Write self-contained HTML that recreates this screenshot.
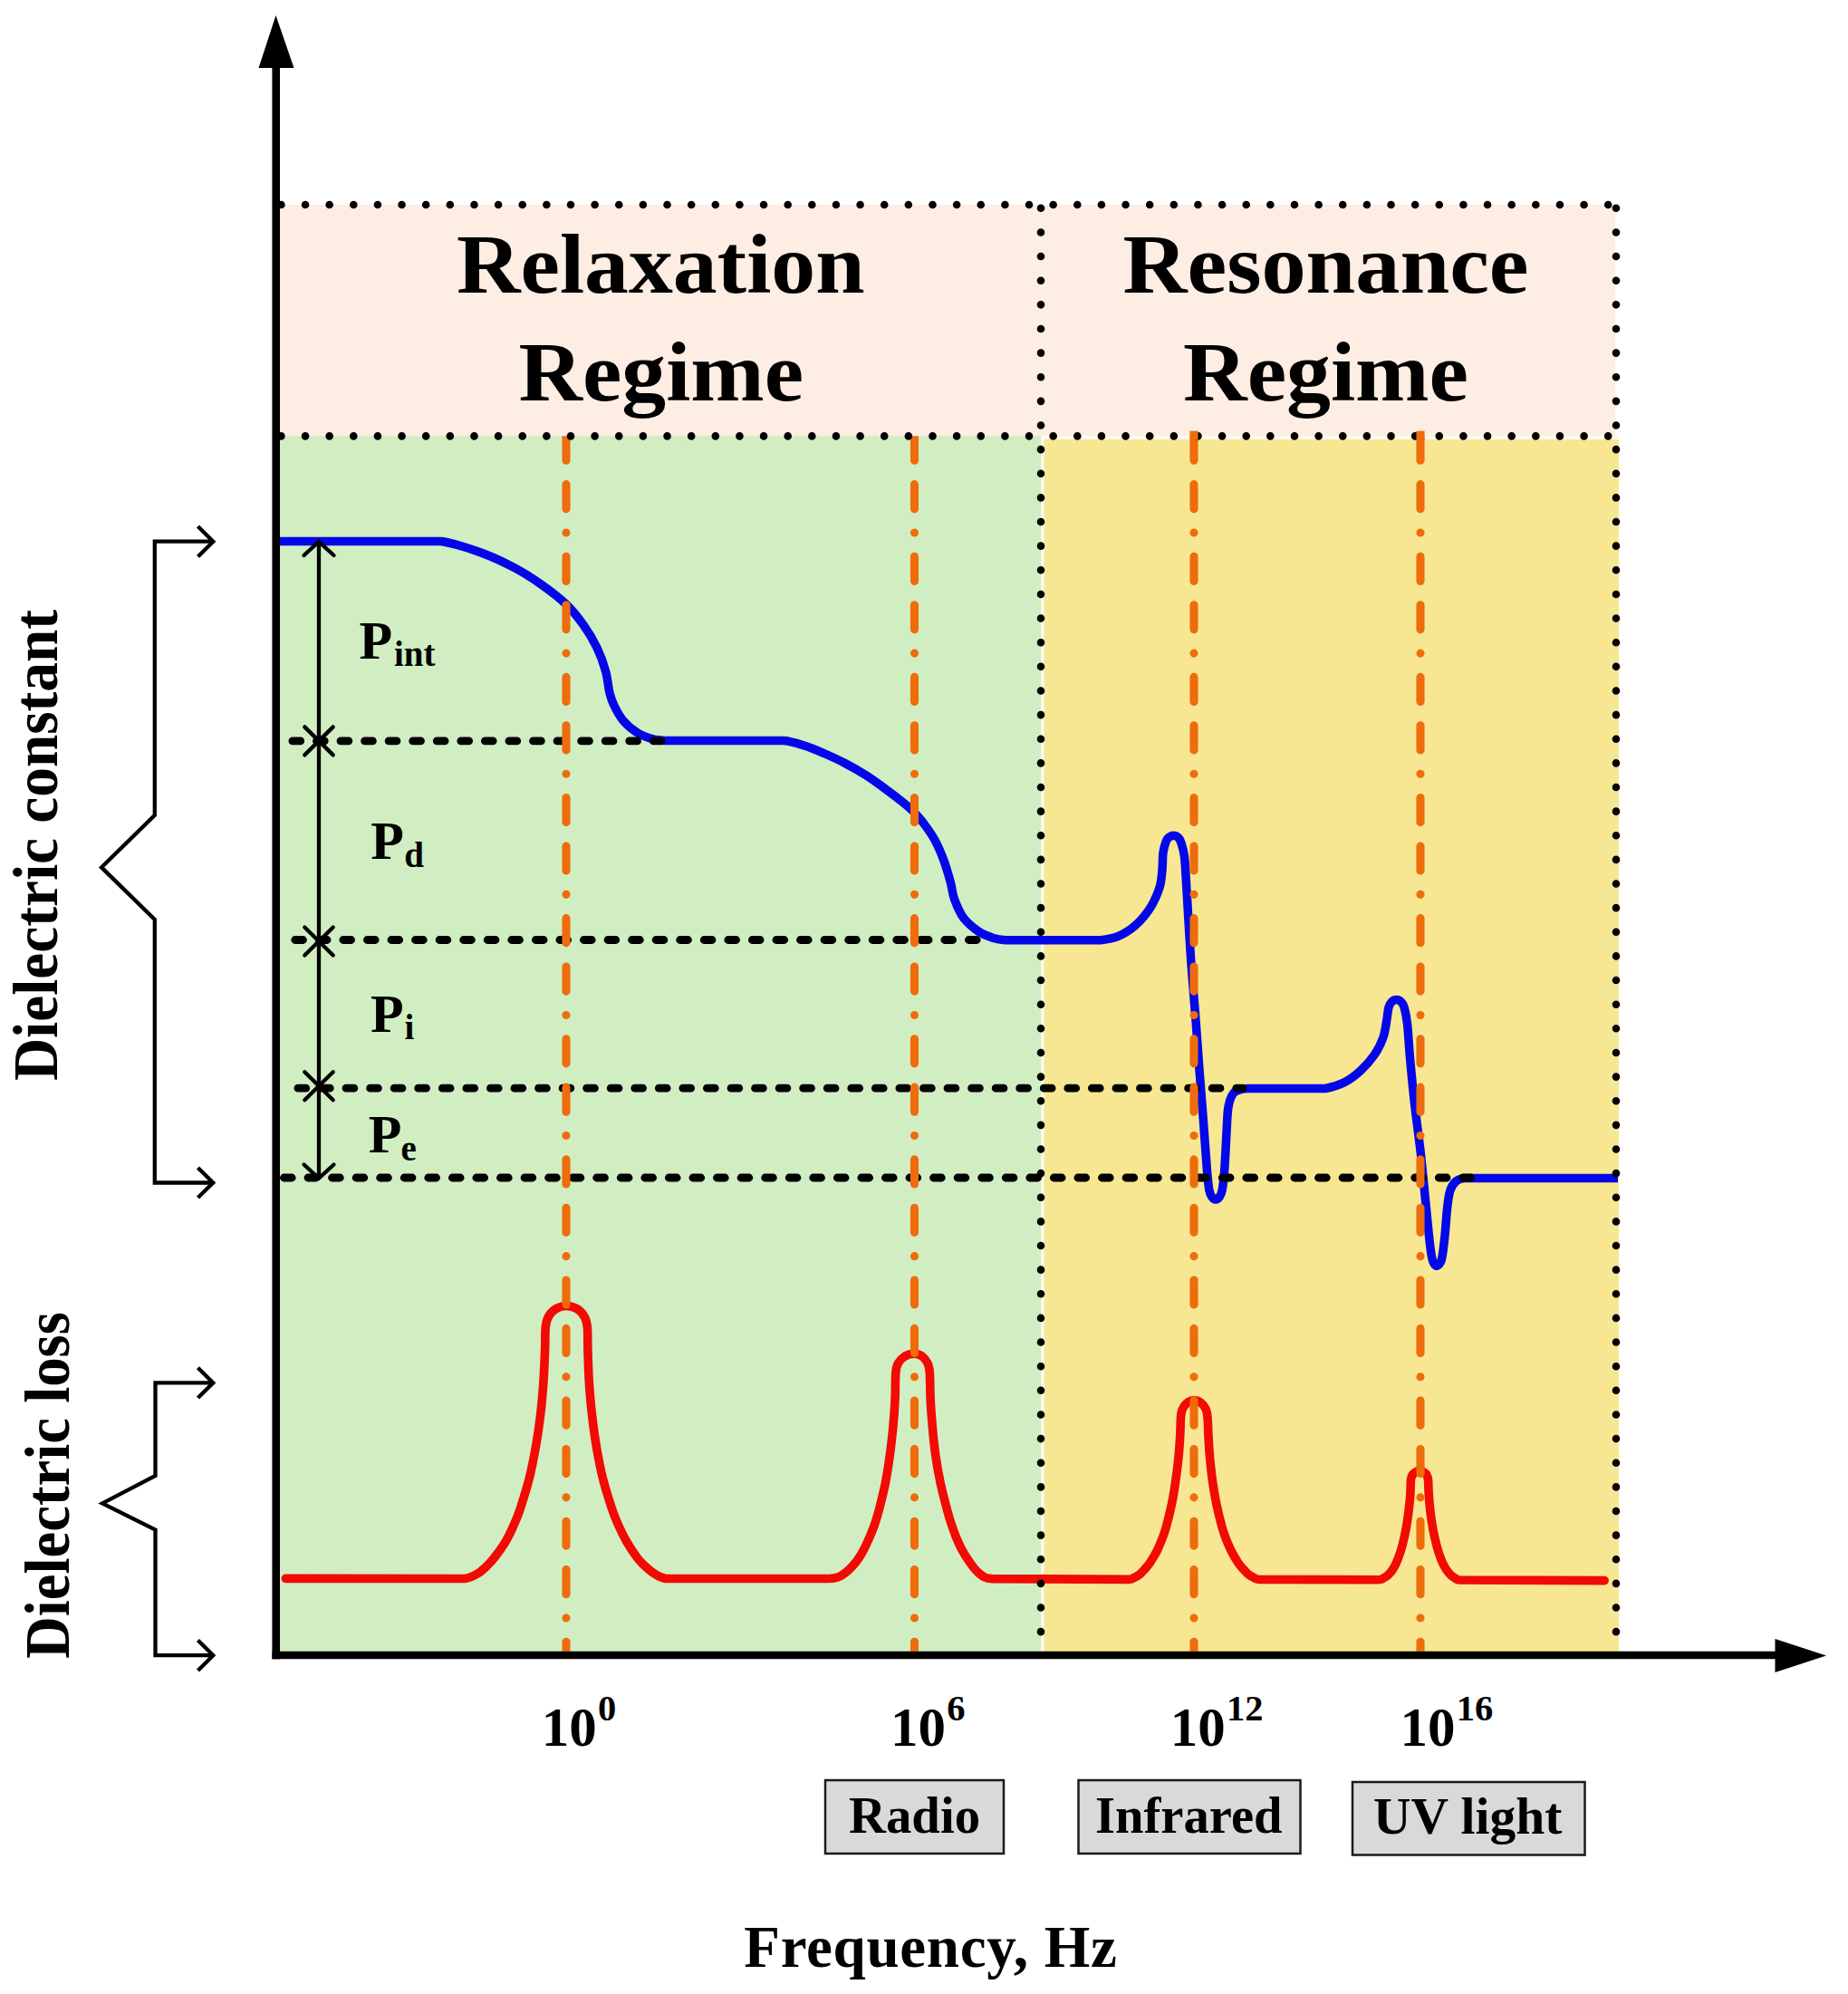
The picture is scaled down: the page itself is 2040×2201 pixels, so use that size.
<!DOCTYPE html>
<html lang="en"><head><meta charset="utf-8"><title>Dielectric constant and loss versus frequency</title>
<style>
html,body{margin:0;padding:0;background:#fff}
body{width:2040px;height:2201px;overflow:hidden}
svg{display:block}
</style></head><body>
<svg width="2040" height="2201" viewBox="0 0 2040 2201" font-family="'Liberation Serif', serif" font-weight="bold">
<defs><clipPath id="plot"><rect x="300" y="481.2" width="1500" height="1341.6"/></clipPath></defs>
<rect width="2040" height="2201" fill="#fff"/>
<rect x="307" y="226" width="1476.3" height="256" fill="#FDEDE2"/>
<rect x="307" y="481.2" width="842.7" height="1342" fill="#D1EEC2"/>
<rect x="1149" y="481" width="638" height="6" fill="#FEFBEC"/>
<rect x="1149" y="481" width="5" height="1342" fill="#FCFBE8"/>
<rect x="1152.6" y="485" width="634.4" height="1338" fill="#F7E792"/>
<path d="M309 597.5H487 C500.1 599.5 516.8 604.9 530.3 609.8 C543.8 614.7 556.8 620.9 568.2 626.9 C579.6 632.9 589.0 639.1 598.5 645.8 C608.0 652.5 617.4 659.7 625.0 667.0 C632.6 674.3 638.3 681.8 644.0 689.8 C649.7 697.8 654.9 706.5 659.0 715.0 C663.1 723.5 666.3 732.7 668.6 741.0 C670.9 749.3 671.4 758.7 673.0 765.0 C674.6 771.3 675.5 773.9 678.0 779.0 C680.5 784.1 683.8 790.5 688.0 795.5 C692.2 800.5 698.3 805.5 703.5 808.8 C708.7 812.1 713.9 813.9 719.0 815.4 C724.1 816.9 727.2 817.1 734.0 817.5H865 C874.3 818.4 880.3 820.6 887.9 823.0 C895.5 825.4 903.0 828.7 910.6 832.0 C918.2 835.3 925.7 838.7 933.3 842.7 C940.9 846.7 948.4 850.9 956.0 855.8 C963.6 860.6 971.8 866.7 978.8 871.8 C985.8 876.9 992.6 882.2 997.7 886.4 C1002.8 890.6 1005.7 893.1 1009.5 897.0 C1013.3 900.9 1016.8 905.0 1020.5 910.0 C1024.2 915.0 1028.3 920.6 1031.8 927.0 C1035.3 933.4 1038.5 940.8 1041.4 948.5 C1044.3 956.2 1047.2 966.2 1049.2 973.5 C1051.2 980.8 1051.1 985.9 1053.5 992.4 C1055.9 998.9 1059.0 1006.9 1063.4 1012.8 C1067.8 1018.7 1074.5 1024.2 1080.0 1028.0 C1085.5 1031.8 1091.6 1033.8 1096.6 1035.4 C1101.6 1037.0 1104.4 1037.3 1110.0 1037.7H1215 C1221.6 1037.0 1228.0 1036.2 1234.5 1033.4 C1241.0 1030.6 1247.9 1026.3 1253.8 1021.0 C1259.7 1015.7 1265.6 1008.6 1270.0 1001.7 C1274.4 994.8 1277.8 986.7 1280.0 979.7 C1282.2 972.8 1282.3 966.5 1283.0 960.0 C1283.7 953.5 1283.2 946.3 1284.0 941.0 C1284.8 935.7 1286.3 930.9 1287.5 928.0 C1288.7 925.1 1289.6 924.8 1291.0 923.8 C1292.4 922.8 1294.2 922.3 1295.7 922.3 C1297.2 922.3 1298.9 922.8 1300.2 924.0 C1301.5 925.2 1302.4 925.7 1303.6 929.5 C1304.8 933.3 1306.5 936.9 1307.6 946.6 C1308.7 956.4 1309.1 969.6 1310.3 988.0 C1311.5 1006.4 1312.9 1034.0 1314.5 1057.0 C1316.1 1080.0 1318.4 1105.3 1320.0 1126.0 C1321.6 1146.7 1322.6 1162.7 1324.0 1181.0 C1325.4 1199.3 1326.9 1217.6 1328.3 1236.0 C1329.7 1254.4 1331.3 1278.5 1332.4 1291.4 C1333.5 1304.3 1333.9 1308.5 1334.8 1313.4 C1335.7 1318.3 1336.4 1319.0 1337.6 1320.8 C1338.8 1322.6 1340.5 1324.0 1342.0 1324.0 C1343.5 1324.0 1345.2 1322.6 1346.4 1320.8 C1347.6 1319.0 1348.3 1318.3 1349.2 1313.4 C1350.1 1308.5 1350.9 1302.0 1351.7 1291.4 C1352.5 1280.8 1353.3 1261.5 1354.0 1250.0 C1354.7 1238.5 1354.7 1229.6 1355.9 1222.4 C1357.1 1215.2 1358.9 1210.3 1361.4 1207.0 C1363.9 1203.7 1367.8 1203.2 1371.0 1202.3 C1374.2 1201.4 1376.7 1201.6 1380.7 1201.5H1463 C1469.5 1200.4 1477.5 1198.1 1484.0 1194.8 C1490.5 1191.5 1496.4 1187.0 1502.0 1181.8 C1507.6 1176.6 1513.6 1169.6 1517.7 1163.6 C1521.8 1157.5 1524.7 1151.5 1526.8 1145.5 C1528.9 1139.5 1529.6 1132.9 1530.6 1127.3 C1531.6 1121.7 1532.0 1115.3 1533.0 1111.7 C1534.0 1108.1 1535.2 1106.9 1536.6 1105.5 C1538.0 1104.1 1540.0 1103.4 1541.6 1103.4 C1543.2 1103.4 1545.0 1104.1 1546.4 1105.5 C1547.8 1106.9 1548.8 1107.6 1550.0 1111.7 C1551.2 1115.8 1552.4 1120.5 1553.5 1130.0 C1554.6 1139.5 1555.2 1153.7 1556.6 1168.8 C1558.0 1183.9 1559.8 1203.5 1561.8 1220.8 C1563.8 1238.1 1566.3 1255.4 1568.3 1272.7 C1570.2 1290.0 1572.0 1309.6 1573.5 1324.7 C1575.0 1339.8 1576.3 1353.6 1577.4 1363.6 C1578.5 1373.5 1579.2 1379.5 1580.0 1384.4 C1580.8 1389.3 1581.0 1390.8 1582.0 1393.0 C1583.0 1395.2 1584.6 1397.4 1586.0 1397.4 C1587.4 1397.4 1589.3 1395.2 1590.4 1393.0 C1591.5 1390.8 1591.7 1389.3 1592.5 1384.4 C1593.3 1379.5 1594.1 1372.2 1595.0 1363.6 C1595.9 1354.9 1596.7 1340.7 1597.7 1332.5 C1598.7 1324.3 1599.2 1319.1 1600.8 1314.3 C1602.4 1309.5 1604.7 1306.2 1607.3 1303.9 C1609.9 1301.6 1612.6 1301.0 1616.4 1300.4H1786" stroke="#0408E8" stroke-width="9.5" fill="none" stroke-linejoin="round"/>
<path d="M315.3 1742.4 L513.0 1742.5 C519.6 1741.6 523.2 1739.3 527.4 1736.9 C531.5 1734.5 534.8 1731.0 537.9 1728.1 C541.0 1725.1 542.4 1723.6 545.8 1719.2 C549.2 1714.8 554.6 1707.5 558.1 1701.7 C561.6 1695.8 564.3 1689.9 566.9 1684.0 C569.5 1678.1 571.0 1675.2 573.9 1666.4 C576.8 1657.6 581.4 1642.9 584.4 1631.2 C587.4 1619.4 589.5 1607.7 591.6 1596.0 C593.7 1584.2 595.3 1572.5 596.7 1560.8 C598.1 1549.0 599.1 1537.3 599.9 1525.6 C600.7 1513.8 601.2 1500.1 601.6 1490.1 C602.0 1480.2 601.6 1471.8 602.2 1465.7 C602.8 1459.6 603.4 1457.1 605.3 1453.6 C607.2 1450.1 610.4 1446.8 613.8 1444.7 C617.1 1442.7 621.4 1441.5 625.3 1441.5 C629.1 1441.5 633.5 1442.7 636.9 1444.7 C640.2 1446.7 643.4 1450.1 645.3 1453.6 C647.2 1457.0 647.8 1459.5 648.4 1465.6 C649.0 1471.7 648.6 1480.1 648.9 1490.1 C649.2 1500.0 649.5 1513.7 650.3 1525.4 C651.0 1537.2 652.1 1548.8 653.4 1560.6 C654.7 1572.3 656.2 1584.0 658.2 1595.7 C660.2 1607.4 662.3 1619.1 665.2 1630.9 C668.1 1642.6 672.8 1657.2 675.7 1666.0 C678.6 1674.8 680.1 1677.7 682.7 1683.6 C685.3 1689.5 688.1 1695.4 691.5 1701.2 C694.9 1707.1 699.7 1714.4 702.9 1718.8 C706.1 1723.2 707.7 1724.6 710.8 1727.6 C713.9 1730.5 717.4 1733.9 721.4 1736.4 C725.4 1738.9 728.6 1741.5 735.0 1742.5 L915.0 1742.5 C920.8 1742.3 921.3 1742.3 924.6 1741.1 C927.9 1739.8 931.7 1737.2 934.6 1734.9 C937.5 1732.7 940.0 1729.9 942.2 1727.4 C944.4 1724.9 946.3 1722.4 948.0 1719.8 C949.7 1717.3 950.6 1716.1 952.6 1712.3 C954.6 1708.5 957.6 1702.1 959.8 1697.1 C962.0 1692.0 964.0 1687.0 965.8 1682.0 C967.5 1676.9 968.3 1674.4 970.3 1666.8 C972.2 1659.2 975.5 1646.6 977.5 1636.5 C979.5 1626.4 980.9 1616.3 982.3 1606.2 C983.7 1596.1 984.8 1586.0 985.8 1575.9 C986.8 1565.8 987.5 1555.7 988.0 1545.6 C988.5 1535.4 988.2 1522.0 988.8 1515.2 C989.4 1508.4 989.8 1507.8 991.5 1504.7 C993.2 1501.7 996.1 1498.8 999.0 1497.0 C1001.9 1495.3 1006.1 1494.2 1009.2 1494.2 C1012.3 1494.2 1015.3 1495.3 1017.8 1497.0 C1020.2 1498.8 1022.6 1501.7 1024.0 1504.7 C1025.4 1507.7 1025.8 1508.4 1026.3 1515.2 C1026.8 1522.0 1026.7 1535.4 1027.2 1545.5 C1027.7 1555.6 1028.5 1565.6 1029.4 1575.7 C1030.3 1585.8 1031.3 1595.9 1032.7 1606.0 C1034.1 1616.1 1035.9 1626.2 1038.0 1636.2 C1040.1 1646.3 1043.5 1658.9 1045.5 1666.5 C1047.5 1674.1 1048.3 1676.6 1050.0 1681.7 C1051.7 1686.7 1053.4 1691.7 1055.5 1696.8 C1057.6 1701.8 1059.8 1706.9 1062.6 1711.9 C1065.4 1717.0 1069.6 1723.2 1072.3 1727.0 C1075.0 1730.8 1076.2 1732.3 1078.6 1734.6 C1081.0 1736.8 1083.8 1739.3 1086.5 1740.7 C1089.2 1742.0 1089.4 1742.3 1095.0 1742.6 L1246.0 1743.4 C1251.2 1743.1 1250.0 1742.4 1252.0 1741.5 C1254.0 1740.5 1256.1 1739.4 1258.2 1737.7 C1260.3 1736.0 1262.6 1733.4 1264.5 1731.2 C1266.4 1729.1 1267.4 1728.0 1269.5 1724.8 C1271.6 1721.6 1274.9 1716.3 1277.1 1712.0 C1279.3 1707.7 1281.0 1703.4 1282.7 1699.1 C1284.4 1694.8 1285.3 1692.7 1287.1 1686.3 C1288.9 1679.9 1291.6 1669.1 1293.4 1660.6 C1295.2 1652.0 1296.5 1643.5 1297.7 1635.0 C1299.0 1626.4 1300.1 1617.8 1300.9 1609.3 C1301.8 1600.7 1302.4 1591.1 1302.8 1583.6 C1303.2 1576.1 1303.1 1569.1 1303.5 1564.3 C1303.9 1559.6 1304.2 1557.7 1305.5 1555.1 C1306.7 1552.4 1308.7 1549.8 1310.9 1548.3 C1313.0 1546.7 1315.7 1545.8 1318.2 1545.8 C1320.7 1545.8 1323.5 1546.7 1325.6 1548.3 C1327.7 1549.8 1329.8 1552.4 1331.0 1555.1 C1332.3 1557.7 1332.5 1559.6 1333.0 1564.3 C1333.5 1569.1 1333.5 1576.1 1333.9 1583.6 C1334.3 1591.1 1334.8 1600.7 1335.6 1609.3 C1336.4 1617.8 1337.3 1626.4 1338.5 1635.0 C1339.7 1643.5 1341.1 1652.0 1342.9 1660.6 C1344.7 1669.1 1347.4 1679.9 1349.2 1686.3 C1351.0 1692.7 1351.8 1694.8 1353.5 1699.1 C1355.2 1703.4 1357.0 1707.7 1359.2 1712.0 C1361.4 1716.3 1364.6 1721.6 1366.7 1724.8 C1368.8 1728.0 1369.8 1729.1 1371.7 1731.2 C1373.6 1733.4 1375.9 1736.0 1378.0 1737.7 C1380.1 1739.4 1382.3 1740.5 1384.3 1741.5 C1386.3 1742.4 1384.9 1743.1 1390.0 1743.4 L1521.0 1743.7 C1526.1 1743.5 1524.9 1743.1 1526.8 1742.2 C1528.7 1741.3 1530.7 1740.1 1532.6 1738.3 C1534.5 1736.5 1536.3 1734.3 1538.0 1731.5 C1539.7 1728.7 1541.2 1725.8 1542.8 1721.7 C1544.4 1717.6 1546.2 1712.8 1547.7 1707.1 C1549.2 1701.4 1550.9 1694.2 1552.1 1687.7 C1553.3 1681.2 1554.2 1674.7 1555.0 1668.2 C1555.8 1661.7 1556.5 1654.4 1556.9 1648.7 C1557.3 1643.0 1557.1 1637.4 1557.4 1634.1 C1557.7 1630.8 1557.9 1630.4 1558.7 1628.8 C1559.5 1627.3 1560.9 1625.9 1562.3 1625.0 C1563.7 1624.1 1565.6 1623.6 1567.2 1623.6 C1568.8 1623.6 1570.5 1624.1 1571.9 1625.0 C1573.3 1625.9 1574.6 1627.3 1575.3 1628.8 C1576.1 1630.4 1576.3 1630.8 1576.6 1634.1 C1576.9 1637.4 1576.8 1643.0 1577.2 1648.7 C1577.6 1654.4 1578.1 1661.7 1578.9 1668.2 C1579.7 1674.7 1580.6 1681.2 1581.8 1687.7 C1583.0 1694.2 1584.7 1701.4 1586.2 1707.1 C1587.7 1712.8 1589.4 1717.6 1591.0 1721.7 C1592.6 1725.8 1594.2 1728.7 1595.9 1731.5 C1597.6 1734.3 1599.5 1736.5 1601.3 1738.3 C1603.1 1740.1 1604.9 1741.2 1606.6 1742.2 C1608.3 1743.2 1606.5 1743.7 1611.5 1744.0 L1771.2 1744.6" stroke="#F20A04" stroke-width="9.6" fill="none" stroke-linecap="round" stroke-linejoin="round"/>
<path d="M322.9 817.9H735" stroke="#000" stroke-width="8.8" stroke-linecap="round" stroke-dasharray="8.8 17.76" fill="none"/>
<path d="M325.7 1037.5H1082" stroke="#000" stroke-width="8.8" stroke-linecap="round" stroke-dasharray="8.8 17.76" fill="none"/>
<path d="M328.9 1201.2H1372" stroke="#000" stroke-width="8.8" stroke-linecap="round" stroke-dasharray="8.8 17.76" fill="none"/>
<path d="M313.4 1300H1628" stroke="#000" stroke-width="8.8" stroke-linecap="round" stroke-dasharray="8.8 17.76" fill="none"/>
<path d="M625 481.2V1822" stroke="#EE6C0C" stroke-width="9.1" stroke-linecap="round" stroke-dasharray="27.1 26.3 27.1 26.3 0.01 26.3" fill="none" clip-path="url(#plot)"/>
<path d="M1009.5 481.2V1822" stroke="#EE6C0C" stroke-width="9.1" stroke-linecap="round" stroke-dasharray="27.1 26.3 27.1 26.3 0.01 26.3" fill="none" clip-path="url(#plot)"/>
<path d="M1318 481.2V1822" stroke="#EE6C0C" stroke-width="9.1" stroke-linecap="round" stroke-dasharray="27.1 26.3 27.1 26.3 0.01 26.3" fill="none" clip-path="url(#plot)"/>
<path d="M1568 481.2V1822" stroke="#EE6C0C" stroke-width="9.1" stroke-linecap="round" stroke-dasharray="27.1 26.3 27.1 26.3 0.01 26.3" fill="none" clip-path="url(#plot)"/>
<path d="M310.4 226H1776" stroke="#000" stroke-width="8.6" stroke-linecap="round" stroke-dasharray="0 26.633" fill="none"/>
<path d="M310.4 481.4H1776" stroke="#000" stroke-width="8.6" stroke-linecap="round" stroke-dasharray="0 26.633" fill="none"/>
<path d="M1149 229.8V1805" stroke="#000" stroke-width="8.6" stroke-linecap="round" stroke-dasharray="0 26.633" fill="none"/>
<path d="M1784 229.8V1805" stroke="#000" stroke-width="8.6" stroke-linecap="round" stroke-dasharray="0 26.633" fill="none"/>
<rect x="1313.45" y="475.7" width="9.1" height="10" fill="#EE6C0C"/>
<rect x="1563.45" y="475.7" width="9.1" height="10" fill="#EE6C0C"/>
<path d="M304.7 1831.2V70" stroke="#000" stroke-width="8.6" fill="none"/>
<path d="M300.4 1827H1962" stroke="#000" stroke-width="8.4" fill="none"/>
<polygon points="304.5,17 285.5,75 324.5,75" fill="#000"/>
<polygon points="2016,1827.5 1959.5,1809 1959.5,1846" fill="#000"/>
<g stroke="#000" stroke-width="4.3" fill="none" stroke-linecap="round" stroke-linejoin="miter">
<path d="M352 599V1299"/>
<path d="M335.5 613L352 598L368.5 613"/>
<path d="M335.5 1285.5L352 1300.5L368.5 1285.5"/>
<path d="M336.3 802.4L367.7 833.4M367.7 802.4L336.3 833.4"/>
<path d="M336.3 1023.5L367.7 1054.5M367.7 1023.5L336.3 1054.5"/>
<path d="M336.3 1183.3L367.7 1214.3M367.7 1183.3L336.3 1214.3"/>
</g>
<g stroke="#000" stroke-width="4.3" fill="none" stroke-linejoin="miter">
<path d="M235 597.7H170.8V899.8L112 957.4L170.8 1015V1305.5H235"/>
<path d="M218.5 581L235.3 597.7L218.5 614.4"/>
<path d="M218.5 1289L235.3 1305.5L218.5 1322"/>
<path d="M235 1526.4H171.5V1629L113 1659.4L171.5 1688.7V1827.2H235"/>
<path d="M218.5 1509.7L235.3 1526.4L218.5 1543"/>
<path d="M218.5 1810.5L235.3 1827.2L218.5 1844"/>
</g>
<text x="504" y="323.3" font-size="92.5" textLength="450.5" lengthAdjust="spacingAndGlyphs">Relaxation</text>
<text x="572.5" y="442.4" font-size="92.5" textLength="314.5" lengthAdjust="spacingAndGlyphs">Regime</text>
<text x="1239.5" y="323.3" font-size="92.5" textLength="448" lengthAdjust="spacingAndGlyphs">Resonance</text>
<text x="1306" y="442.4" font-size="92.5" textLength="315" lengthAdjust="spacingAndGlyphs">Regime</text>
<text x="396.6" y="727" font-size="60">P</text>
<text x="435" y="735.3" font-size="39">int</text>
<text x="409.3" y="948.4" font-size="60">P</text>
<text x="446.3" y="956.9" font-size="39">d</text>
<text x="408.9" y="1138.5" font-size="60">P</text>
<text x="446.5" y="1146.7" font-size="39">i</text>
<text x="406.8" y="1271.8" font-size="60">P</text>
<text x="442.6" y="1281.2" font-size="39">e</text>
<text x="597.8" y="1927" font-size="61">10<tspan font-size="40.5" dy="-27.6" dx="1.2">0</tspan></text>
<text x="983" y="1927" font-size="61">10<tspan font-size="40.5" dy="-27.6" dx="1.2">6</tspan></text>
<text x="1291.7" y="1927" font-size="61">10<tspan font-size="40.5" dy="-27.6" dx="1.2">12</tspan></text>
<text x="1545.6" y="1927" font-size="61">10<tspan font-size="40.5" dy="-27.6" dx="1.2">16</tspan></text>
<rect x="911" y="1965" width="197" height="81" fill="#D9D9D9" stroke="#1a1a1a" stroke-width="2.5"/>
<text x="937" y="2023" font-size="57" textLength="145" lengthAdjust="spacingAndGlyphs">Radio</text>
<rect x="1190.5" y="1965" width="245.0" height="81" fill="#D9D9D9" stroke="#1a1a1a" stroke-width="2.5"/>
<text x="1209" y="2023" font-size="57" textLength="206.5" lengthAdjust="spacingAndGlyphs">Infrared</text>
<rect x="1493" y="1967" width="256.5" height="80.5" fill="#D9D9D9" stroke="#1a1a1a" stroke-width="2.5"/>
<text x="1516" y="2023.7" font-size="57" textLength="208.5" lengthAdjust="spacingAndGlyphs">UV light</text>
<text x="821.3" y="2171.4" font-size="65" textLength="411.5" lengthAdjust="spacing">Frequency, Hz</text>
<text transform="translate(63.3,1193) rotate(-90)" font-size="70" textLength="520" lengthAdjust="spacingAndGlyphs">Dielectric constant</text>
<text transform="translate(76.3,1831) rotate(-90)" font-size="70" textLength="383" lengthAdjust="spacingAndGlyphs">Dielectric loss</text>
</svg>
</body></html>
